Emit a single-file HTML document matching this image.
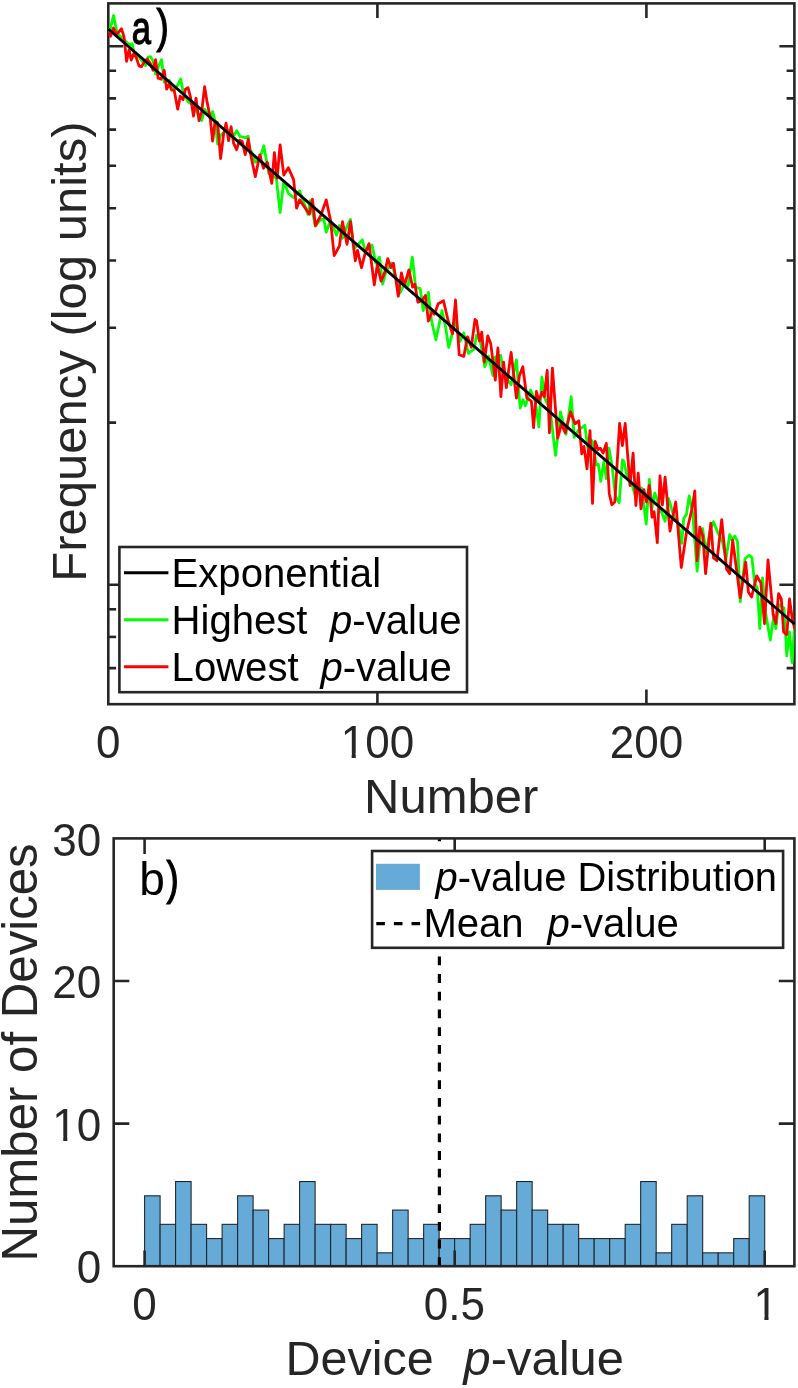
<!DOCTYPE html>
<html lang="en"><head><meta charset="utf-8"><title>Figure</title>
<style>html,body{margin:0;padding:0;background:#fff}body{width:798px;height:1388px;overflow:hidden}svg{display:block}</style></head>
<body>
<svg width="798" height="1388" viewBox="0 0 798 1388">
<rect x="0" y="0" width="798" height="1388" fill="#ffffff"/>
<defs><clipPath id="ca"><rect x="108.3" y="3.4" width="686.1" height="700.8"/></clipPath><clipPath id="cb"><rect x="113.7" y="838.4" width="680.7" height="427.8"/></clipPath></defs>
<g stroke="#262626" stroke-width="2.6" fill="none" stroke-linecap="butt">
<rect x="108.3" y="3.4" width="686.1" height="700.8"/>
<path d="M377.4 704.2v-14.7M377.4 3.4v14.7"/>
<path d="M646.4 704.2v-14.7M646.4 3.4v14.7"/>
<path d="M108.3 46.2h15.0M794.4 46.2h-15.0"/>
<path d="M108.3 70.8h7.8M794.4 70.8h-7.8"/>
<path d="M108.3 98.4h7.8M794.4 98.4h-7.8"/>
<path d="M108.3 129.6h7.8M794.4 129.6h-7.8"/>
<path d="M108.3 165.7h7.8M794.4 165.7h-7.8"/>
<path d="M108.3 208.3h7.8M794.4 208.3h-7.8"/>
<path d="M108.3 260.5h7.8M794.4 260.5h-7.8"/>
<path d="M108.3 327.8h7.8M794.4 327.8h-7.8"/>
<path d="M108.3 422.6h7.8M794.4 422.6h-7.8"/>
<path d="M108.3 584.7h15.0M794.4 584.7h-15.0"/>
<path d="M108.3 609.3h7.8"/>
<path d="M108.3 636.9h7.8"/>
<path d="M108.3 668.1h7.8M794.4 668.1h-7.8"/>
</g>
<polyline clip-path="url(#ca)" points="108.3,31.1 110.5,28.0 113.5,15.5 116.5,30.1 119.0,35.1 124.1,40.1 129.6,45.1 132.1,43.6 134.1,53.1 139.1,57.1 145.6,65.6 148.1,57.1 150.6,56.6 153.1,61.1 155.6,74.2 158.6,66.1 161.6,59.6 164.2,82.2 169.2,80.2 174.2,89.2 177.7,85.2 180.7,79.0 183.0,91.1 188.0,101.6 193.0,105.1 201.6,120.6 204.6,109.1 210.1,118.1 212.6,111.6 215.1,121.1 217.6,144.2 220.6,135.2 227.1,129.2 234.1,135.2 236.6,130.7 240.2,136.7 245.2,137.7 248.2,136.2 250.2,153.2 251.2,151.1 255.3,162.3 259.8,158.6 263.8,145.8 268.8,173.6 276.3,178.1 280.1,212.7 283.8,181.1 288.3,193.2 293.6,197.7 299.6,190.9 307.9,214.2 310.2,200.7 315.4,226.2 319.9,220.2 323.7,218.7 326.2,232.3 330.5,220.2 336.5,235.3 339.5,225.5 342.5,238.3 347.0,226.2 350.5,219.5 353.8,248.8 360.5,242.0 362.3,239.8 365.3,251.1 372.0,245.1 375.8,263.1 379.5,257.1 382.6,284.2 386.3,270.6 391.6,263.1 396.1,278.2 399.8,293.2 403.6,285.7 408.1,285.7 412.3,257.1 415.6,287.2 420.2,288.7 423.2,310.5 428.4,292.4 431.4,320.3 435.9,339.8 442.0,310.5 445.7,327.8 448.7,347.3 452.5,332.3 455.5,320.3 460.0,341.3 463.8,333.0 468.3,353.3 474.3,348.8 476.5,335.1 480.3,341.1 484.8,366.7 488.5,356.1 493.0,375.7 495.3,356.9 500.6,355.4 504.3,375.7 511.1,384.7 516.4,359.9 520.1,408.0 523.1,399.7 525.4,405.8 530.6,390.0 535.2,401.2 538.9,426.8 541.9,377.2 544.9,398.2 550.2,410.3 555.5,455.4 560.4,411.8 566.0,434.3 571.2,396.7 574.2,437.3 578.8,429.8 584.8,425.3 587.8,447.9 591.5,440.3 592.8,442.7 596.2,464.8 598.3,464.1 600.8,481.3 603.8,462.0 606.3,478.6 609.0,448.2 612.1,466.2 615.5,496.5 619.2,502.7 622.4,460.0 623.8,460.7 627.2,477.2 631.4,482.7 635.5,496.5 637.6,488.2 641.7,488.2 646.2,524.1 649.3,479.3 652.0,507.5 654.8,493.0 660.3,508.9 665.1,521.3 668.6,498.6 674.1,517.2 678.2,524.1 681.7,543.4 683.7,518.5 686.5,514.4 689.2,495.8 692.7,513.0 697.1,571.0 700.5,536.1 702.6,528.5 706.0,552.5 710.1,530.6 713.5,521.7 717.6,532.0 722.4,541.5 725.9,559.3 729.7,534.7 732.0,540.2 734.8,536.1 737.5,541.5 740.2,601.8 745.0,558.7 749.1,555.2 751.9,557.3 754.6,582.6 757.3,588.1 759.8,628.5 762.5,577.8 765.6,612.7 770.3,640.1 773.8,615.5 775.8,628.5 778.6,604.5 784.0,607.9 786.8,655.8 789.5,631.9 792.2,662.7 794.6,626.4" fill="none" stroke="#00ff00" stroke-width="2.80" stroke-linejoin="round" stroke-linecap="round"/>
<polyline clip-path="url(#ca)" points="108.3,32.6 110.5,36.3 113.5,28.0 116.5,34.6 119.0,31.6 121.5,28.8 124.1,37.1 126.6,61.3 129.1,49.6 131.3,60.1 133.6,54.1 136.1,57.1 139.1,66.1 141.6,66.6 144.1,62.1 147.1,59.1 150.1,63.1 153.1,70.2 155.6,59.6 158.1,78.2 161.1,79.2 164.2,70.2 166.7,89.2 169.2,84.2 171.7,90.2 174.2,90.2 177.7,109.2 180.2,96.2 183.0,99.6 185.5,89.1 188.0,87.6 190.5,97.1 193.5,116.1 196.0,98.1 199.0,120.6 201.6,112.1 204.6,86.6 207.1,102.1 210.1,117.1 212.6,141.2 215.1,121.1 217.6,122.6 220.6,158.7 223.6,134.2 226.1,123.1 228.6,140.7 231.1,126.7 233.6,143.2 236.6,149.7 239.6,140.2 242.2,141.2 245.2,154.7 248.2,139.2 251.2,157.1 255.3,176.6 259.8,154.8 263.5,168.3 267.3,162.3 271.8,183.4 274.4,152.6 277.1,178.1 280.1,145.0 283.8,175.1 288.3,167.6 293.6,179.6 296.6,208.2 299.6,199.9 309.4,214.2 312.4,199.2 315.4,225.5 320.7,215.7 326.2,199.9 330.5,220.2 334.2,255.6 339.5,245.8 342.5,221.7 347.0,244.3 350.5,221.7 355.3,260.8 357.5,250.3 361.5,267.6 365.3,252.6 369.0,243.6 374.3,284.9 377.3,264.6 381.1,281.2 384.8,272.1 387.8,258.6 390.8,267.6 393.4,263.1 398.3,296.2 401.4,272.9 404.4,285.7 408.9,269.9 412.6,287.2 414.9,284.2 417.9,302.2 421.7,300.7 425.4,295.5 428.4,321.0 432.2,311.2 434.4,314.2 438.2,303.7 443.5,300.7 448.0,320.3 452.5,333.8 455.5,300.0 459.2,354.8 463.8,356.4 467.5,336.8 471.3,347.3 475.0,319.5 476.5,320.8 479.5,341.1 481.8,332.1 484.3,362.1 487.8,335.8 490.8,344.1 495.3,380.2 497.9,347.9 500.9,396.7 503.6,362.1 506.3,387.7 511.1,352.4 516.4,398.2 519.4,375.7 522.8,366.7 526.9,398.2 531.4,401.2 533.6,427.6 536.4,391.5 538.9,401.2 541.9,392.2 544.2,396.7 547.2,370.4 549.4,432.8 552.4,368.2 557.7,438.1 561.5,423.8 565.2,432.8 570.5,411.8 575.0,423.8 578.8,420.8 581.8,453.9 584.0,446.4 587.0,468.9 590.0,430.6 592.5,503.4 595.2,441.4 598.0,449.6 600.3,448.2 603.1,453.1 606.3,443.4 609.3,493.7 611.8,504.8 614.8,502.0 619.6,423.4 622.4,445.5 625.2,423.4 630.0,485.5 633.1,453.1 635.9,505.5 638.2,473.1 641.0,508.9 643.8,489.6 646.5,502.0 649.3,485.5 652.0,517.2 654.1,511.7 657.3,542.7 660.0,475.8 662.4,504.8 665.1,477.2 670.0,531.0 675.7,502.0 681.3,567.5 686.5,532.3 692.0,508.9 694.8,491.0 697.1,560.7 699.8,527.2 702.9,536.1 705.6,573.7 710.8,523.1 713.5,558.0 717.0,560.7 721.7,519.6 726.5,568.9 729.7,573.7 732.7,540.2 740.2,597.7 745.7,562.1 748.4,592.2 751.6,597.0 756.7,575.8 760.8,582.6 764.5,623.7 768.0,560.0 773.1,614.1 775.8,623.7 778.6,593.6 781.3,599.0 783.6,631.9 786.8,634.6 789.5,599.0 792.2,618.2 794.6,628.5" fill="none" stroke="#ff0000" stroke-width="2.80" stroke-linejoin="round" stroke-linecap="round"/>
<line x1="108.3" y1="29.0" x2="794.4" y2="624.0" stroke="#000" stroke-width="2.9"/>
<g font-family='"Liberation Sans", Arial, Helvetica, sans-serif' fill="#262626">
<g transform="translate(108.3 757.8) scale(1 1.040)"><text font-size="44.0" text-anchor="middle">0</text></g>
<clipPath id="km3"><path clip-rule="evenodd" d="M-300 -300H300V300H-300Z M-34.94 -4.62H-25.74V1.32H-34.94Z M-21.65 -4.62H-12.94V1.32H-21.65Z"/></clipPath>
<g transform="translate(377.4 757.8) scale(1 1.040)"><text font-size="44.0" text-anchor="middle" clip-path="url(#km3)">100</text></g>
<g transform="translate(646.4 757.8) scale(1 1.040)"><text font-size="44.0" text-anchor="middle">200</text></g>
<text x="451.2" y="812.6" font-size="49" text-anchor="middle">Number</text>
<text transform="translate(85.6 351.6) rotate(-90)" font-size="49" text-anchor="middle">Frequency (log units)</text>
<text transform="translate(131.7 43.8) scale(0.75 1)" font-size="46" fill="#000" stroke="#000" stroke-width="1.3">a</text><text transform="translate(156.4 41.6) scale(0.8 1)" font-size="46" fill="#000" stroke="#000" stroke-width="1.2">)</text>
</g>
<rect x="119.4" y="547" width="347.6" height="145.2" fill="#fff" stroke="#262626" stroke-width="2.6"/>
<line x1="124" y1="572.8" x2="168.4" y2="572.8" stroke="#000" stroke-width="3"/>
<line x1="124" y1="619.8" x2="168.4" y2="619.8" stroke="#00ff00" stroke-width="3"/>
<line x1="124" y1="666.8" x2="168.4" y2="666.8" stroke="#ff0000" stroke-width="3"/>
<g font-family='"Liberation Sans", Arial, Helvetica, sans-serif' fill="#000" font-size="40.1">
<text x="171.6" y="586.6">Exponential</text>
<text x="171.6" y="633.6">Highest</text><text x="330" y="633.6"><tspan font-style="italic">p</tspan>-value</text>
<text x="171.6" y="680.6">Lowest</text><text x="320.4" y="680.6"><tspan font-style="italic">p</tspan>-value</text>
</g>
<g fill="#66aad8" stroke="#1b2229" stroke-width="1.05" stroke-linejoin="miter">
<rect x="144.60" y="1195.80" width="15.50" height="70.40"/>
<rect x="160.10" y="1224.32" width="15.50" height="41.88"/>
<rect x="175.60" y="1181.54" width="15.50" height="84.66"/>
<rect x="191.11" y="1224.32" width="15.50" height="41.88"/>
<rect x="206.61" y="1238.58" width="15.50" height="27.62"/>
<rect x="222.11" y="1224.32" width="15.50" height="41.88"/>
<rect x="237.62" y="1195.80" width="15.50" height="70.40"/>
<rect x="253.12" y="1210.06" width="15.50" height="56.14"/>
<rect x="268.62" y="1238.58" width="15.50" height="27.62"/>
<rect x="284.12" y="1224.32" width="15.50" height="41.88"/>
<rect x="299.62" y="1181.54" width="15.50" height="84.66"/>
<rect x="315.13" y="1224.32" width="15.50" height="41.88"/>
<rect x="330.63" y="1224.32" width="15.50" height="41.88"/>
<rect x="346.13" y="1238.58" width="15.50" height="27.62"/>
<rect x="361.63" y="1224.32" width="15.50" height="41.88"/>
<rect x="377.14" y="1252.84" width="15.50" height="13.36"/>
<rect x="392.64" y="1210.06" width="15.50" height="56.14"/>
<rect x="408.14" y="1238.58" width="15.50" height="27.62"/>
<rect x="423.64" y="1224.32" width="15.50" height="41.88"/>
<rect x="439.15" y="1238.58" width="15.50" height="27.62"/>
<rect x="454.65" y="1238.58" width="15.50" height="27.62"/>
<rect x="470.15" y="1224.32" width="15.50" height="41.88"/>
<rect x="485.65" y="1195.80" width="15.50" height="70.40"/>
<rect x="501.16" y="1210.06" width="15.50" height="56.14"/>
<rect x="516.66" y="1181.54" width="15.50" height="84.66"/>
<rect x="532.16" y="1210.06" width="15.50" height="56.14"/>
<rect x="547.67" y="1224.32" width="15.50" height="41.88"/>
<rect x="563.17" y="1224.32" width="15.50" height="41.88"/>
<rect x="578.67" y="1238.58" width="15.50" height="27.62"/>
<rect x="594.17" y="1238.58" width="15.50" height="27.62"/>
<rect x="609.68" y="1238.58" width="15.50" height="27.62"/>
<rect x="625.18" y="1224.32" width="15.50" height="41.88"/>
<rect x="640.68" y="1181.54" width="15.50" height="84.66"/>
<rect x="656.18" y="1252.84" width="15.50" height="13.36"/>
<rect x="671.69" y="1224.32" width="15.50" height="41.88"/>
<rect x="687.19" y="1195.80" width="15.50" height="70.40"/>
<rect x="702.69" y="1252.84" width="15.50" height="13.36"/>
<rect x="718.19" y="1252.84" width="15.50" height="13.36"/>
<rect x="733.70" y="1238.58" width="15.50" height="27.62"/>
<rect x="749.20" y="1195.80" width="15.50" height="70.40"/>
</g>
<line clip-path="url(#cb)" x1="439.4" y1="832.5" x2="439.4" y2="1266" stroke="#000" stroke-width="3.2" stroke-dasharray="8.8 8.9"/>
<g stroke="#262626" stroke-width="2.6" fill="none">
<rect x="113.7" y="838.4" width="680.7" height="427.8"/>
<path d="M144.6 1266.2v-15.6M144.6 838.4v15.6"/>
<path d="M454.7 1266.2v-15.6M454.7 838.4v15.6"/>
<path d="M764.7 1266.2v-15.6M764.7 838.4v15.6"/>
<path d="M113.7 981.0h15.6M794.4 981.0h-15.6"/>
<path d="M113.7 1123.6h15.6M794.4 1123.6h-15.6"/>
</g>
<g font-family='"Liberation Sans", Arial, Helvetica, sans-serif' fill="#262626">
<g transform="translate(101.2 855.6) scale(1 1.040)"><text font-size="44.0" text-anchor="end">30</text></g>
<g transform="translate(101.2 998.2) scale(1 1.040)"><text font-size="44.0" text-anchor="end">20</text></g>
<clipPath id="ke2"><path clip-rule="evenodd" d="M-300 -300H300V300H-300Z M-47.17 -4.62H-37.97V1.32H-47.17Z M-33.88 -4.62H-25.17V1.32H-33.88Z"/></clipPath>
<g transform="translate(101.2 1140.8) scale(1 1.040)"><text font-size="44.0" text-anchor="end" clip-path="url(#ke2)">10</text></g>
<g transform="translate(101.2 1283.4) scale(1 1.040)"><text font-size="44.0" text-anchor="end">0</text></g>
<g transform="translate(144.6 1320.0) scale(1 1.040)"><text font-size="44.0" text-anchor="middle">0</text></g>
<g transform="translate(454.3 1320.0) scale(1 1.040)"><text font-size="44.0" text-anchor="middle">0.5</text></g>
<clipPath id="km1"><path clip-rule="evenodd" d="M-300 -300H300V300H-300Z M-10.47 -4.62H-1.28V1.32H-10.47Z M2.82 -4.62H11.53V1.32H2.82Z"/></clipPath>
<g transform="translate(765.7 1320.0) scale(1 1.040)"><text font-size="44.0" text-anchor="middle" clip-path="url(#km1)">1</text></g>
<text x="285.4" y="1374.8" font-size="48.5">Device</text>
<text x="463.6" y="1374.8" font-size="48.9"><tspan font-style="italic">p</tspan>-value</text>
<text transform="translate(36.8 1052.4) rotate(-90)" font-size="49.2" text-anchor="middle">Number of Devices</text>
<text x="139.2" y="895" font-size="46" fill="#000">b</text><text transform="translate(166.6 893.8) scale(0.8 1)" font-size="46" fill="#000" stroke="#000" stroke-width="1.2">)</text>
</g>
<rect x="372.1" y="851" width="411" height="96.8" fill="#fff" stroke="#262626" stroke-width="2.6"/>
<rect x="376" y="863.8" width="43.9" height="26.1" fill="#66aad8"/>
<line x1="376.3" y1="923.7" x2="420.2" y2="923.7" stroke="#000" stroke-width="3.2" stroke-dasharray="8.6 9"/>
<g font-family='"Liberation Sans", Arial, Helvetica, sans-serif' fill="#000" font-size="40.1">
<text x="435.6" y="890.8" font-size="39.9"><tspan font-style="italic">p</tspan>-value Distribution</text>
<text x="423.4" y="937.4">Mean</text><text x="547.4" y="937.4"><tspan font-style="italic">p</tspan>-value</text>
</g>
</svg>
</body></html>
